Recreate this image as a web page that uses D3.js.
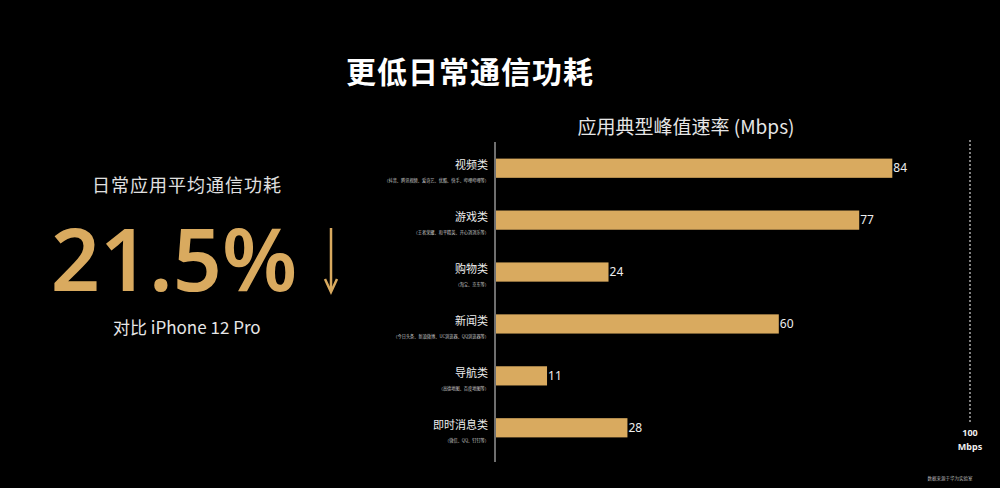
<!DOCTYPE html>
<html><head><meta charset="utf-8">
<script src="https://cdn.jsdelivr.net/npm/d3@7"></script>
<style>html,body{margin:0;padding:0;background:#000;}svg{display:block;}</style>
</head><body>
<script>
const categories = ["视频类","游戏类","购物类","新闻类","导航类","即时消息类"];
const subLabels = ["（抖音、腾讯视频、爱奇艺、优酷、快手、哔哩哔哩等）","（王者荣耀、和平精英、开心消消乐等）","（淘宝、京东等）","（今日头条、新浪微博、UC浏览器、QQ浏览器等）","（高德地图、百度地图等）","（微信、QQ、钉钉等）"];
const values = [84,77,24,60,11,28];
const maxValue = 100;

const W=1000,H=488;
const svg=d3.select("body").append("svg").attr("width",W).attr("height",H).style("background","#000");
const font="'Noto Sans CJK SC','Noto Sans',sans-serif";
const gold="#d9aa5f";

svg.append("text").attr("x",470).attr("y",83).attr("text-anchor","middle")
 .attr("font-family",font).attr("font-weight",700).attr("font-size",30).attr("fill","#fff").attr("letter-spacing",1).text("更低日常通信功耗");

svg.append("text").attr("x",686).attr("y",134).attr("text-anchor","middle")
 .attr("font-family",font).attr("font-size",19).attr("fill","#e6e6e6").text("应用典型峰值速率 (Mbps)");

// left panel
svg.append("text").attr("x",187).attr("y",192).attr("text-anchor","middle")
 .attr("font-family",font).attr("font-size",18).attr("fill","#e0e0e0").attr("letter-spacing",1).text("日常应用平均通信功耗");
svg.append("text").attr("x",174).attr("y",291).attr("text-anchor","middle")
 .attr("font-family","'Noto Sans','Open Sans',sans-serif").attr("font-weight",600).attr("font-size",86).attr("fill",gold).attr("letter-spacing",0).text("21.5%");
svg.append("line").attr("x1",331).attr("x2",331).attr("y1",228).attr("y2",290).attr("stroke",gold).attr("stroke-width",2.5);
svg.append("path").attr("d","M325,279 L331,292 L337,279").attr("fill","none").attr("stroke",gold).attr("stroke-width",2.5);
svg.append("text").attr("x",113).attr("y",334)
 .attr("font-family",font).attr("font-size",17).attr("fill","#e6e6e6").text("对比 iPhone 12 Pro");

// chart
const x=d3.scaleLinear().domain([0,maxValue]).range([495,968]);
const y=d3.scaleBand().domain(categories).range([142,454]).paddingInner(0.63).paddingOuter(0.32);

svg.append("line").attr("x1",x(0)).attr("x2",x(0)).attr("y1",142).attr("y2",462).attr("stroke","#ddd").attr("stroke-width",1);

svg.append("line").attr("x1",x(maxValue)+2).attr("x2",x(maxValue)+2).attr("y1",140).attr("y2",424)
 .attr("stroke","#aaa").attr("stroke-width",1.5).attr("stroke-dasharray","2,2");

const g=svg.append("g");
g.selectAll("rect").data(values).join("rect")
 .attr("x",x(0)+1).attr("y",(d,i)=>y(categories[i])).attr("height",y.bandwidth())
 .attr("width",d=>x(d)-x(0)-1).attr("fill",gold);
g.selectAll("text.v").data(values).join("text").attr("class","v")
 .attr("x",d=>x(d)+1).attr("y",(d,i)=>y(categories[i])+y.bandwidth()/2+4)
 .attr("font-family","'Noto Sans',sans-serif").attr("font-size",12).attr("fill","#eee").text(d=>d);
g.selectAll("text.c").data(categories).join("text").attr("class","c")
 .attr("x",488).attr("y",d=>y(d)+y.bandwidth()/2+1).attr("text-anchor","end")
 .attr("font-family",font).attr("font-size",11).attr("fill","#eee").text(d=>d);
g.selectAll("text.s").data(subLabels).join("text").attr("class","s")
 .attr("x",489).attr("y",(d,i)=>y(categories[i])+y.bandwidth()/2+14).attr("text-anchor","end")
 .attr("font-family",font).attr("font-size",4.2).attr("fill","#ccc").text(d=>d);

svg.append("text").attr("x",970).attr("y",436).attr("text-anchor","middle")
 .attr("font-family","'Noto Sans',sans-serif").attr("font-weight",700).attr("font-size",9).attr("fill","#eee").text(maxValue);
svg.append("text").attr("x",970).attr("y",450).attr("text-anchor","middle")
 .attr("font-family","'Noto Sans',sans-serif").attr("font-weight",700).attr("font-size",9).attr("fill","#eee").text("Mbps");
svg.append("text").attr("x",950).attr("y",480).attr("text-anchor","middle")
 .attr("font-family",font).attr("font-size",4.5).attr("fill","#bbb").text("数据来源于华为实验室");
</script>
</body></html>
